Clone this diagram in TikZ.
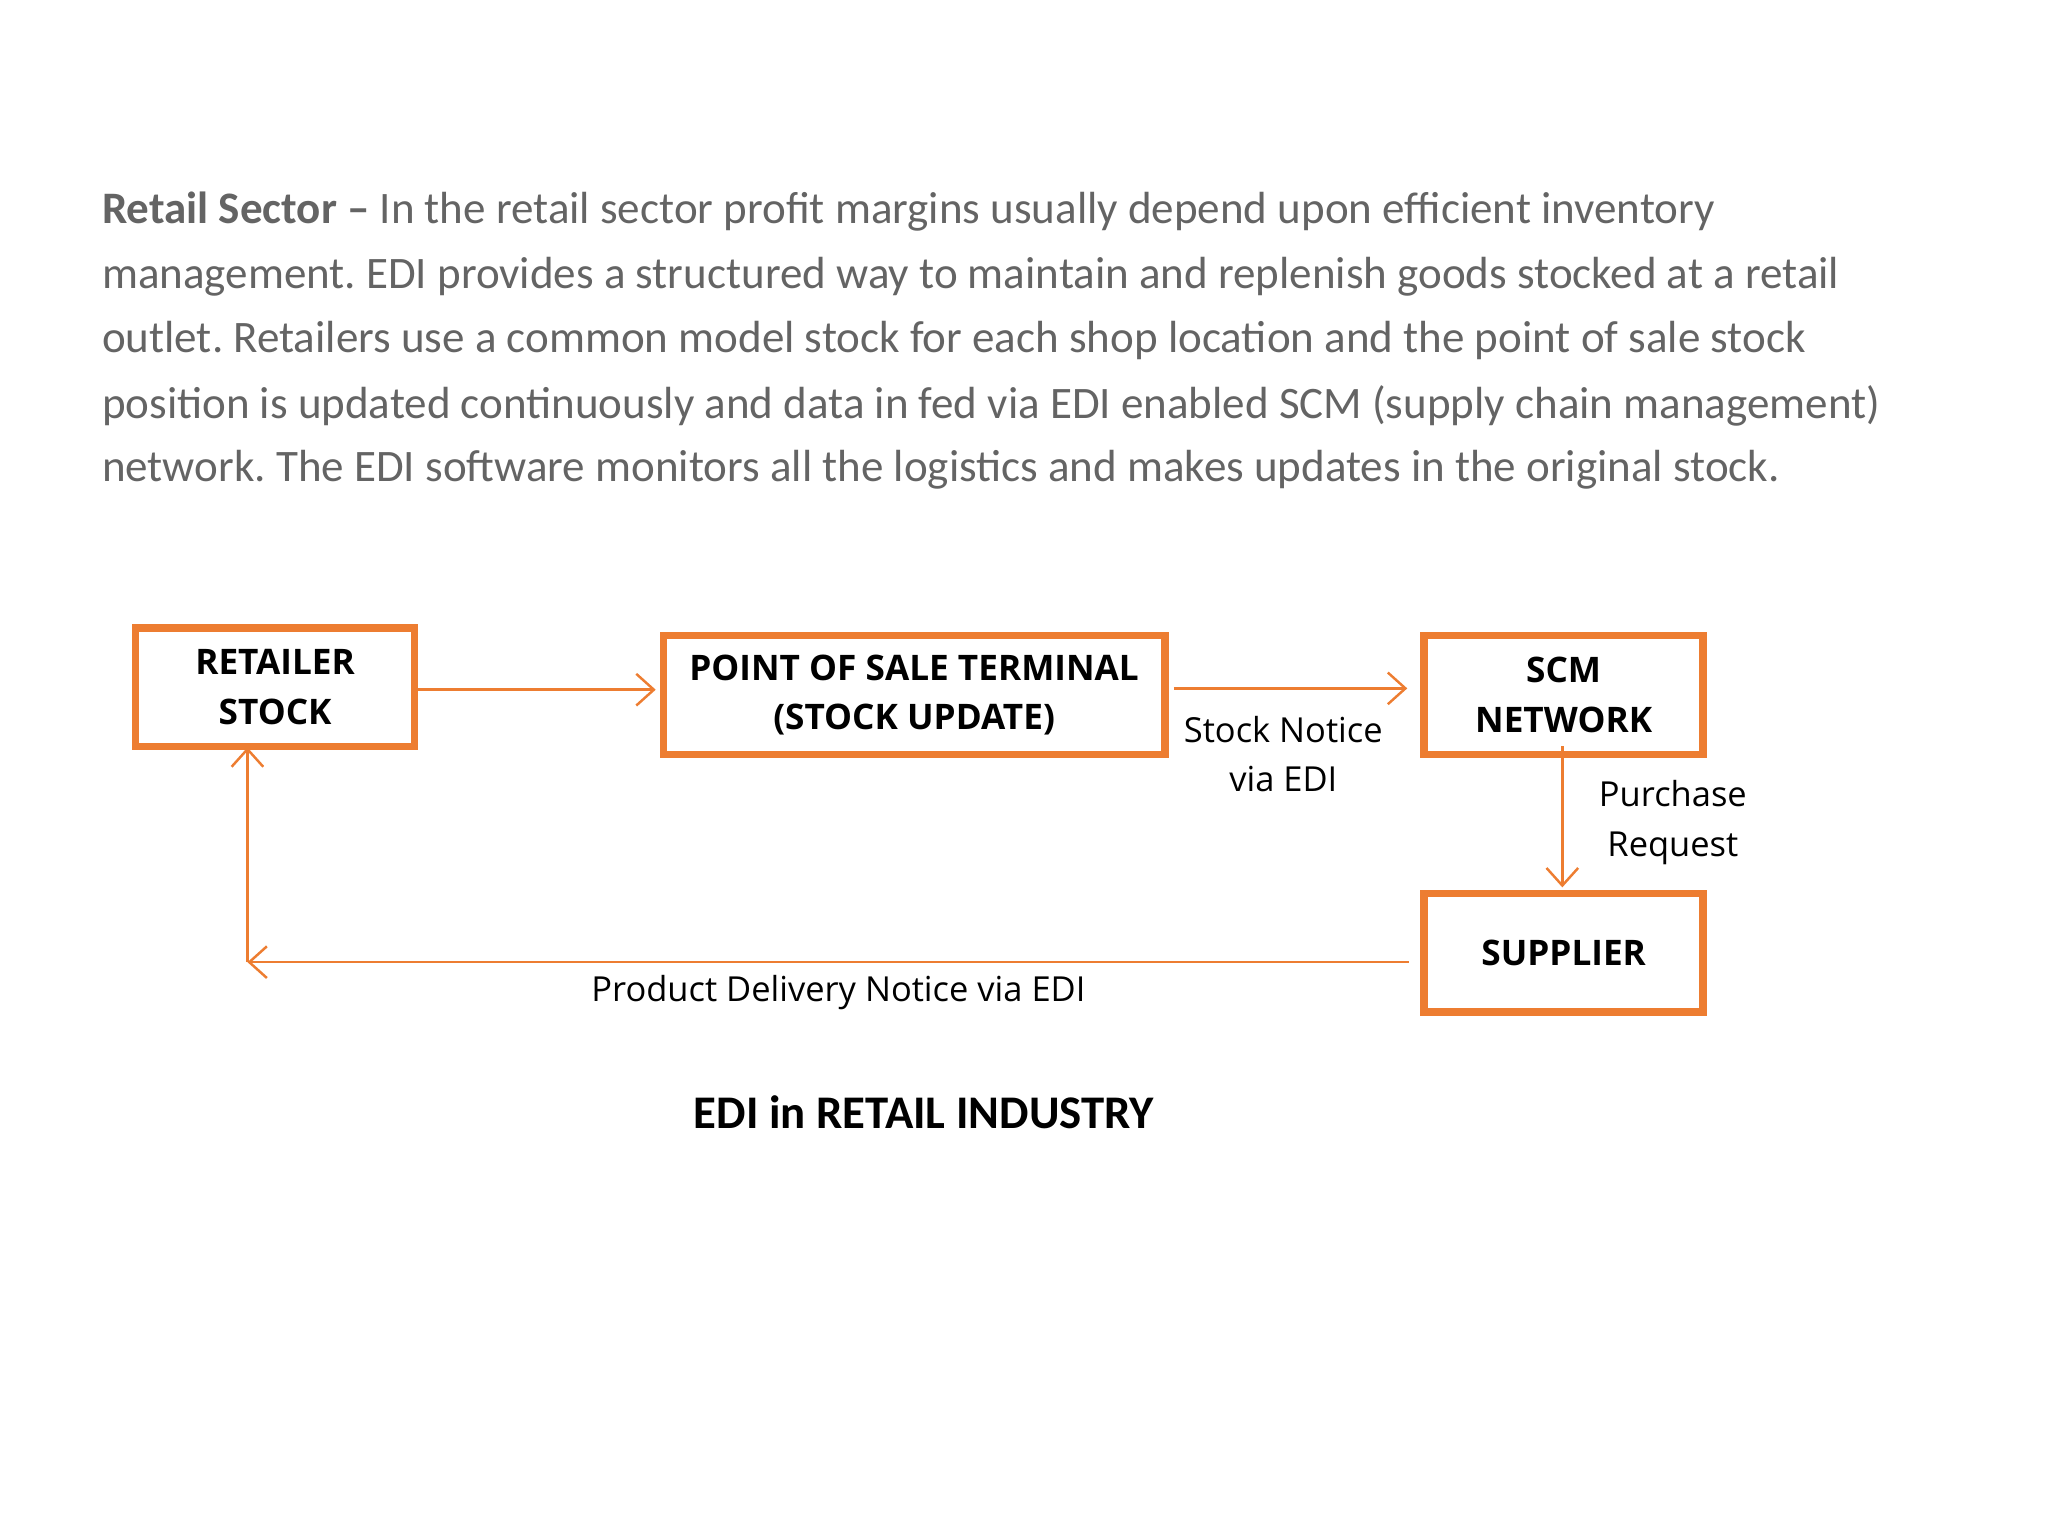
\documentclass[tikz,border=0pt]{standalone}
\usepackage{fontspec}
\setmainfont{Carlito}
\newfontfamily\lab{Open Sans}
\usetikzlibrary{arrows.meta}
\definecolor{org}{RGB}{237,125,49}
\definecolor{txt}{RGB}{100,100,100}
\frenchspacing
\begin{document}
\begin{tikzpicture}[x=0.01316cm,y=-0.01316cm,
  box/.style={draw=org,line width=2.1pt,inner sep=0pt,font=\lab\bfseries\fontsize{10}{14}\selectfont,align=center},
  con/.style={draw=org,line width=0.7pt,-{Straight Barb[length=5pt,width=9pt]}},
  lbl/.style={font=\lab\fontsize{9.8}{14}\selectfont,align=center},
  para/.style={anchor=west,inner sep=0pt,text=txt,font=\fontsize{12.8}{16}\selectfont}]
\useasboundingbox (0,0) rectangle (1556,1168);
\node[para] (l1) at (77,161) {\textbf{Retail Sector –} In the retail sector profit margins usually depend upon efficient inventory};
\node[para] (l2) at (77,210) {management. EDI provides a structured way to maintain and replenish goods stocked at a retail};
\node[para] (l3) at (77,259) {outlet. Retailers use a common model stock for each shop location and the point of sale stock};
\node[para] (l4) at (77,308) {position is updated continuously and data in fed via EDI enabled SCM (supply chain management)};
\node[para] (l5) at (77,357) {network. The EDI software monitors all the logistics and makes updates in the original stock.};
\node[box,minimum width=212*0.01316cm,minimum height=90*0.01316cm] (ret) at (209,522) {RETAILER\\STOCK};
\node[box,minimum width=381*0.01316cm,minimum height=90*0.01316cm] (pos) at (694.5,528) {POINT OF SALE TERMINAL\\(STOCK UPDATE)};
\node[box,minimum width=212*0.01316cm,minimum height=90*0.01316cm] (scm) at (1188,528) {SCM\\NETWORK};
\node[box,minimum width=212*0.01316cm,minimum height=90*0.01316cm] (sup) at (1188,724) {SUPPLIER};
\coordinate (corner) at (188,731);
\draw[con] (ret.east |- 0,524) -- ([xshift=-3*0.01316cm]pos.west |- 0,524);
\draw[con] ([xshift=4*0.01316cm]pos.east |- 0,523) -- ([xshift=-10*0.01316cm]scm.west |- 0,523);
\draw[con] ([yshift=9*0.01316cm]scm.south -| 1187,0) -- ([yshift=2*0.01316cm]sup.north -| 1187,0);
\draw[con] ([xshift=-9*0.01316cm]sup.west |- corner) -- (corner);
\draw[con] (corner) -- ([yshift=2*0.01316cm]ret.south -| corner);
\node[lbl] (n1) at (975,573) {Stock Notice\\via EDI};
\node[lbl] (n2) at (1271,625) {Purchase\\Request};
\node[lbl] (n3) at (637,754) {Product Delivery Notice via EDI};
\node[font=\bfseries\fontsize{13.3}{15}\selectfont] (title) at (702,845) {EDI in RETAIL INDUSTRY};
\end{tikzpicture}
\end{document}
